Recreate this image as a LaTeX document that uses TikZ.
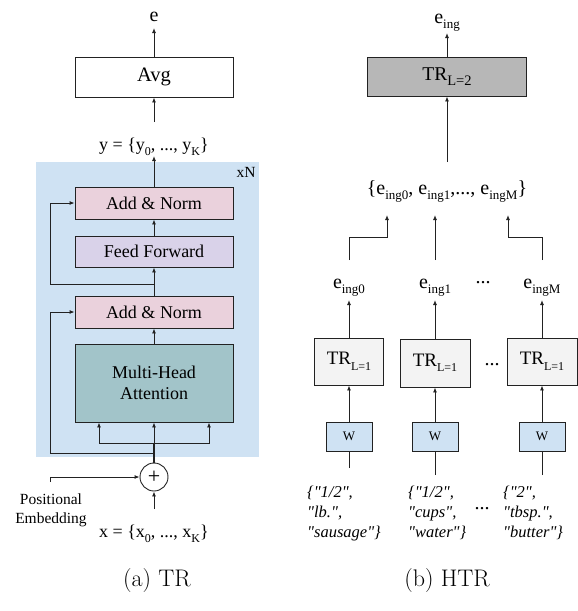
\documentclass[tikz,border=0pt]{standalone}
\usepackage{fontspec}
\usepackage{graphicx}
\newfontfamily\tnr{Liberation Serif}
\usetikzlibrary{arrows.meta,calc}
\definecolor{bgblue}{HTML}{CFE2F3}
\definecolor{anpink}{HTML}{EAD1DC}
\definecolor{fflav}{HTML}{D9D2E9}
\definecolor{mhateal}{HTML}{A2C4C9}
\definecolor{trgray}{HTML}{B7B7B7}
\definecolor{trlight}{HTML}{F3F3F3}
\definecolor{inkc}{HTML}{222222}
\newcommand\fsz[1]{\fontsize{#1}{#1}\selectfont}
\newcommand\lsub[2][13]{\raisebox{-5.5pt}{\fsz{#1}#2}}
\begin{document}
\begin{tikzpicture}[x=1pt,y=-1pt,
 blk/.style={draw=inkc, line width=0.9pt, inner sep=0pt, font=\tnr\fsz{18}},
 arr/.style={draw=inkc, line width=0.9pt, -{Latex[length=5pt,width=4pt]}},
 ln/.style={draw=inkc, line width=0.9pt},
 lbl/.style={inner sep=0pt, font=\tnr\fsz{20}},
]
\useasboundingbox (0,0) rectangle (578,611);
% ---------- (a) TR ----------
\node[fill=bgblue, minimum width=223, minimum height=295, inner sep=0pt] (bg) at (147.5,309.5) {};
\node[blk, fill=white, minimum width=158, minimum height=40, font=\tnr\fsz{20.5}] (avg) at (154,77) {Avg};
\node[blk, fill=anpink, minimum width=158, minimum height=32] (an1) at (154,203) {Add \& Norm};
\node[blk, fill=fflav, minimum width=158, minimum height=31] (ff) at (154,251.5) {Feed Forward};
\node[blk, fill=anpink, minimum width=158, minimum height=32] (an2) at (154,312) {Add \& Norm};
\node[blk, fill=mhateal, minimum width=158, minimum height=78, align=center, font=\tnr\fontsize{18}{21}\selectfont] (mha) at (154,383) {Multi-Head\\Attention};
\node[blk, circle, minimum size=28, fill=white, font=\tnr\fsz{22}] (plus) at (154,477) {+};

\node[lbl, anchor=base] (eout) at (154,21) {e};
\node[lbl, anchor=base, font=\tnr\fsz{18}] (yset) at (154,150) {y = \{y\lsub[12]{0}, ..., y\lsub[12]{K}\}};
\node[lbl, anchor=base, font=\tnr\fsz{18}] (xset) at (154,537) {x = \{x\lsub[12]{0}, ..., x\lsub[12]{K}\}};
\node[lbl, font=\tnr\fontsize{15.5}{19}\selectfont, align=center] (pos) at (51,510) {Positional\\Embedding};
\node[lbl, anchor=base, font=\tnr\fsz{15.5}] (xn) at (246,177) {xN};
\node[lbl, anchor=base, font=\fsz{24}] (capa) at (157,586) {(a) TR};

\draw[arr] (avg.north) -- ([yshift=-7pt]eout.base);
\draw[arr] ([yshift=28pt]yset.base) -- (avg.south);
\draw[arr] (an1.north) -- ([yshift=-6pt]yset.base);
\draw[arr] (ff.north) -- (an1.south);
\draw[arr] (an2.north) -- (ff.south);
\draw[arr] (mha.north) -- (an2.south);
\coordinate (r1) at (154,284);
\coordinate (r2) at (154,453);
\coordinate (jn) at (154,443);
\coordinate (jl) at (99,443);
\coordinate (jr) at (209,443);
\coordinate (pe) at (50,482);
\draw[arr] (r1) -- ++(-104,0) |- (an1.west);
\draw[arr] (r2) -- ++(-104,0) |- (an2.west);
\draw[ln, line width=1.6pt] (plus.north) -- (jn);
\draw[arr] (jn) -- (mha.south);
\draw[arr] (jn) -- (jl) -- (jl |- mha.south);
\draw[arr] (jn) -- (jr) -- (jr |- mha.south);
\draw[arr] (pe) |- (plus.west);
\draw[arr] ([yshift=28pt]xset.base) -- (plus.south);

% ---------- (b) HTR ----------
\node[blk, fill=trgray, minimum width=159, minimum height=39, font=\tnr\fsz{19.5}] (tr2) at (447,76.5) {TR\lsub[14.5]{L=2}};
\node[lbl, anchor=base] (eing) at (447,23) {e\lsub{ing}};
\node[lbl, anchor=base] (eset) at (447,194) {\{e\lsub{ing0}, e\lsub{ing1},..., e\lsub{ingM}\}};
\draw[arr] (tr2.north) -- ([yshift=-10pt]eing.base);
\draw[arr] ([yshift=32pt]eset.base) -- (tr2.south);

\node[lbl, anchor=base] (e0) at (349,288) {e\lsub{ing0}};
\node[lbl, anchor=base] (e1) at (435,288) {e\lsub{ing1}};
\node[lbl, anchor=base] (eM) at (542,288) {e\lsub{ingM}};
\node[lbl, anchor=base] (edots) at (483,283) {...};

\coordinate (s0) at (387,215);
\coordinate (s1) at (435,215);
\coordinate (s2) at (508,215);
\draw[arr] ([yshift=28pt]e0.base) -- ++(0,-23) -| (s0);
\draw[arr] ([yshift=28pt]e1.base) -- (s1);
\draw[arr] ([yshift=28pt]eM.base) -- ++(0,-23) -| (s2);

\node[blk, fill=trlight, minimum width=69, minimum height=47, font=\tnr\fsz{19}] (t0) at (349,361.5) {TR\lsub[12]{L=1}};
\node[blk, fill=trlight, minimum width=70, minimum height=48, font=\tnr\fsz{19}] (t1) at (435,363) {TR\lsub[12]{L=1}};
\node[blk, fill=trlight, minimum width=70, minimum height=47, font=\tnr\fsz{19}] (t2) at (542,361.5) {TR\lsub[12]{L=1}};
\node[lbl, anchor=base] (tdots) at (492,365) {...};

\draw[arr] (e0.base |- t0.north) -- ([yshift=-12pt]e0.base);
\draw[arr] (e1.base |- t1.north) -- ([yshift=-12pt]e1.base);
\draw[arr] (eM.base |- t2.north) -- ([yshift=-12pt]eM.base);

\node[blk, fill=bgblue, minimum width=46, minimum height=29, font=\tnr\fsz{13}] (w0) at (349,436.5) {W};
\node[blk, fill=bgblue, minimum width=46, minimum height=29, font=\tnr\fsz{13}] (w1) at (435,436.5) {W};
\node[blk, fill=bgblue, minimum width=46, minimum height=29, font=\tnr\fsz{13}] (w2) at (542,436.5) {W};
\draw[arr] (w0.north) -- (w0.north |- t0.south);
\draw[arr] (w1.north) -- (w1.north |- t1.south);
\draw[arr] (w2.north) -- (w2.north |- t2.south);

\coordinate (i0) at (349,468);
\coordinate (i1) at (435,475);
\coordinate (i2) at (542,475);
\draw[ln] (i0) -- (w0.south);
\draw[ln] (i1) -- (w1.south);
\draw[ln] (i2) -- (w2.south);

\node[lbl, anchor=north west, align=left, font=\tnr\itshape\fontsize{16.5}{20}\selectfont] (g0) at (307,486) {\{"1/2",\\"lb.",\\"sausage"\}};
\node[lbl, anchor=north west, align=left, font=\tnr\itshape\fontsize{16.5}{20}\selectfont] (g1) at (408,486) {\{"1/2",\\"cups",\\"water"\}};
\node[lbl, anchor=north west, align=left, font=\tnr\itshape\fontsize{16.5}{20}\selectfont] (g2) at (503,486) {\{"2",\\"tbsp.",\\"butter"\}};
\node[lbl, anchor=base] (gdots) at (482,509) {...};

\node[lbl, anchor=base, font=\fsz{24}] (capb) at (447,586) {(b) HTR};
\end{tikzpicture}
\end{document}
